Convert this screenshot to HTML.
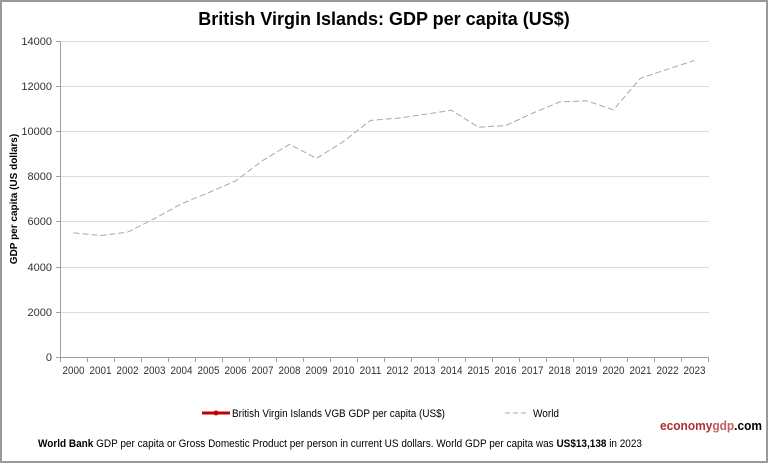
<!DOCTYPE html>
<html><head><style>
html,body{margin:0;padding:0;background:#fff;}
svg{display:block;font-family:"Liberation Sans",Arial,sans-serif;}
</style></head><body>
<svg width="768" height="463" viewBox="0 0 768 463" xmlns="http://www.w3.org/2000/svg">
<rect x="1" y="1" width="766" height="461" fill="#fff" stroke="#9a9a9a" stroke-width="2"/>
<text x="384" y="25" text-anchor="middle" font-size="18" font-weight="bold" fill="#000">British Virgin Islands: GDP per capita (US$)</text>
<g stroke="#dcdcdc" stroke-width="1">
<line x1="60" y1="41.5" x2="709" y2="41.5"/>
<line x1="60" y1="86.5" x2="709" y2="86.5"/>
<line x1="60" y1="131.5" x2="709" y2="131.5"/>
<line x1="60" y1="176.5" x2="709" y2="176.5"/>
<line x1="60" y1="221.5" x2="709" y2="221.5"/>
<line x1="60" y1="267.5" x2="709" y2="267.5"/>
<line x1="60" y1="312.5" x2="709" y2="312.5"/>
</g>
<g stroke="#a0a0a0" stroke-width="1">
<line x1="60.5" y1="41" x2="60.5" y2="357"/>
<line x1="60" y1="357.5" x2="709" y2="357.5"/>
<line x1="56" y1="41.5" x2="60" y2="41.5"/><line x1="56" y1="86.5" x2="60" y2="86.5"/><line x1="56" y1="131.5" x2="60" y2="131.5"/><line x1="56" y1="176.5" x2="60" y2="176.5"/><line x1="56" y1="221.5" x2="60" y2="221.5"/><line x1="56" y1="267.5" x2="60" y2="267.5"/><line x1="56" y1="312.5" x2="60" y2="312.5"/><line x1="56" y1="357.5" x2="60" y2="357.5"/>
</g>
<g font-size="11" fill="#333" text-anchor="end">
<text x="52" y="45">14000</text><text x="52" y="90">12000</text><text x="52" y="135">10000</text><text x="52" y="180">8000</text><text x="52" y="225">6000</text><text x="52" y="271">4000</text><text x="52" y="316">2000</text><text x="52" y="361">0</text>
</g>
<text transform="translate(17,199) rotate(-90)" text-anchor="middle" font-size="10" font-weight="bold" fill="#000">GDP per capita (US dollars)</text>
<g id="xt" stroke="#a0a0a0"></g>
<g font-size="11" fill="#333" text-anchor="middle" id="xl"></g>
<polyline id="world" fill="none" stroke="#a8a8a8" stroke-width="1" stroke-dasharray="6,3" points=""/>
<line x1="202" y1="413" x2="230" y2="413" stroke="#c00000" stroke-width="3"/>
<circle cx="216" cy="413" r="2.5" fill="#c00000"/>
<text x="232" y="417" font-size="11" fill="#000" textLength="213" lengthAdjust="spacingAndGlyphs">British Virgin Islands VGB GDP per capita (US$)</text>
<line x1="505" y1="413" x2="528" y2="413" stroke="#a8a8a8" stroke-width="1" stroke-dasharray="5,3"/>
<text x="533" y="417" font-size="11" fill="#000" textLength="26" lengthAdjust="spacingAndGlyphs">World</text>
<text x="660" y="430" font-size="13" font-weight="bold" fill="#b03030" textLength="102" lengthAdjust="spacingAndGlyphs">economy<tspan fill="#c06060">gdp</tspan><tspan fill="#000">.com</tspan></text>
<text x="38" y="447" font-size="11" fill="#000" textLength="604" lengthAdjust="spacingAndGlyphs"><tspan font-weight="bold">World Bank</tspan> GDP per capita or Gross Domestic Product per person in current US dollars.   World GDP per capita was <tspan font-weight="bold">US$13,138</tspan> in 2023</text>
</svg>
<script>
var vals=[5500,5380,5530,6130,6790,7280,7800,8700,9420,8800,9550,10480,10580,10750,10930,10180,10250,10800,11300,11350,10950,12350,12750,13138];
var pts=[],xt=document.getElementById('xt'),xl=document.getElementById('xl'),ns="http://www.w3.org/2000/svg";
for(var i=0;i<24;i++){var cx=60+27*i+13.5;pts.push(cx+","+(357-vals[i]*316/14000));
var t=document.createElementNS(ns,'text');t.setAttribute('x',cx);t.setAttribute('y',374);t.setAttribute('textLength','22');t.setAttribute('lengthAdjust','spacingAndGlyphs');t.textContent=2000+i;xl.appendChild(t);}
for(var i=0;i<=24;i++){var l=document.createElementNS(ns,'line');var x=60.5+27*i;l.setAttribute('x1',x);l.setAttribute('x2',x);l.setAttribute('y1',357);l.setAttribute('y2',362);xt.appendChild(l);}
document.getElementById('world').setAttribute('points',pts.join(' '));
</script>
</body></html>
